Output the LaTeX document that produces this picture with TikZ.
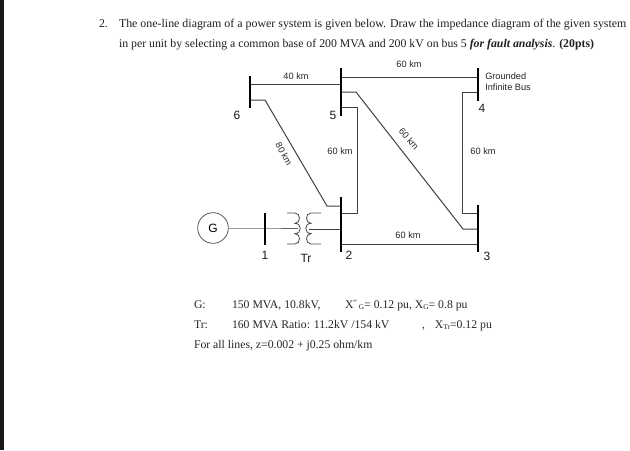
\documentclass[tikz,border=0pt]{standalone}
\usepackage{fontspec}
\setmainfont{Liberation Serif}
\newfontfamily\lblfont{Liberation Sans}
\begin{document}
\begin{tikzpicture}[x=0.75pt,y=-0.75pt,
  wire/.style={draw=black!75,line width=0.75pt,line join=miter},
  busbar/.style={draw=black,line width=2pt},
  coil/.style={draw=black!70,line width=0.6pt},
  txt/.style={anchor=base west,inner sep=0pt,outer sep=0pt,text=black!88,font=\fontsize{8.85pt}{11pt}\selectfont},
  small/.style={anchor=base west,inner sep=0pt,outer sep=0pt,text=black!85,font=\fontsize{8.8pt}{10pt}\selectfont},
  km/.style={inner sep=0pt,text=black!85,font=\lblfont\fontsize{6.9pt}{8pt}\selectfont},
  num/.style={inner sep=0pt,text=black!90,font=\lblfont\fontsize{9pt}{10pt}\selectfont}]
\useasboundingbox (0,0) rectangle (630,450);
\fill[white] (0,0) rectangle (630,450);
\fill[black!90] (0,0) rectangle (4.3,450);
% text
\node[txt] (q) at (99,27) {2.};
\node[txt,font=\fontsize{8.93pt}{11pt}\selectfont] (l1) at (119,27) {The one-line diagram of a power system is given below. Draw the impedance diagram of the given system};
\node[txt] (l2) at (119,47) {in per unit by selecting a common base of 200 MVA and 200 kV on bus 5 \textbf{\textit{for fault analysis}}. \textbf{(20pts)}};
\node[small] (g1) at (194,308) {G:};
\node[small] (g2) at (232,308) {150 MVA, 10.8kV,};
\node[small] (g3) at (345,308) {X\raisebox{2pt}{\fontsize{6pt}{6pt}\selectfont ''}\,\raisebox{-1pt}{\fontsize{5.5pt}{6pt}\selectfont G}= 0.12 pu, X\raisebox{-1pt}{\fontsize{5.5pt}{6pt}\selectfont G}= 0.8 pu};
\node[small] (t1) at (194,328) {Tr:};
\node[small] (t2) at (232,328) {160 MVA Ratio: 11.2kV /154 kV};
\node[small] (t3) at (422,328) {,\hspace{7.5pt}X\raisebox{-1pt}{\fontsize{5.5pt}{6pt}\selectfont Tr}=0.12 pu};
\node[small] (z) at (194,348) {For all lines, z=0.002 + j0.25 ohm/km};
% coordinates
\coordinate (b6t) at (250,76); \coordinate (b6b) at (250,108);
\coordinate (b5t) at (341,68); \coordinate (b5b) at (341,116);
\coordinate (b4t) at (478,68); \coordinate (b4b) at (478,101);
\coordinate (b2t) at (341,197); \coordinate (b2b) at (341,252);
\coordinate (b3t) at (478,205); \coordinate (b3b) at (478,252);
\coordinate (b1t) at (265,213); \coordinate (b1b) at (265,245);
\node[draw=black!65,line width=0.6pt,circle,minimum size=23pt,inner sep=0pt,font=\lblfont\fontsize{9pt}{10pt}\selectfont] (G) at (213,228) {G};
% wires
\draw[wire] (b6t |- 0,84) coordinate (a1) -- (b5t |- a1);
\draw[wire] (b5t |- 0,77) coordinate (a2) -- (b4t |- a2);
\draw[wire] (b6t |- 0,100) coordinate (a3) -- (265,100) coordinate (a4) -- (327,206) coordinate (a5) -- (b2t |- a5);
\draw[wire] (b5t |- 0,92) coordinate (a6) -- (356,92) coordinate (a7) -- (463,229) coordinate (a8) -- (b3t |- a8);
\draw[wire] (b5t |- 0,107) coordinate (a9) -- (357,107) coordinate (a10) -- (357,213) coordinate (a11) -- (b2t |- a11);
\draw[wire] (b4t |- 0,92) coordinate (a12) -- (462,92) coordinate (a13) -- (462,213) coordinate (a14) -- (b3t |- a14);
\draw[wire] (b2t |- 0,244) coordinate (a15) -- (b3t |- a15);
\draw[draw=black!60,line width=0.6pt] (G.east) -- (b1t |- G.east) -- (298,228) coordinate (c1);
\draw[wire] (309,229) coordinate (c2) -- (b2t |- c2);
% transformer
\draw[coil] (287,213) -- (295,213)
  .. controls (301,213) and (301,223.3) .. (295,223.3)
  .. controls (302,223.3) and (302,233.6) .. (295,233.6)
  .. controls (301,233.6) and (301,244) .. (295,244) -- (287,244);
\draw[coil] (321,213) -- (311,213)
  .. controls (305,213) and (305,223.3) .. (311,223.3)
  .. controls (304,223.3) and (304,233.6) .. (311,233.6)
  .. controls (305,233.6) and (305,244) .. (311,244) -- (321,244);
% buses
\draw[busbar] (b6t) -- (b6b);
\draw[busbar] (b5t) -- (b5b);
\draw[busbar] (b4t) -- (b4b);
\draw[busbar] (b2t) -- (b2b);
\draw[busbar] (b3t) -- (b3b);
\draw[busbar] (b1t) -- (b1b);
% labels
\node[km] (k1) at (296,76) {40 km};
\node[km] (k2) at (409,64) {60 km};
\node[km] (k3) at (340,151.5) {60 km};
\node[km] (k4) at (483,151) {60 km};
\node[km] (k5) at (408,235) {60 km};
\node[km,rotate=-62] (k6) at (284,154) {80 km};
\node[km,rotate=-50] (k7) at (409,139) {60 km};
\node[km,anchor=base west] (gr) at (485,79) {Grounded};
\node[km,anchor=base west] (ib) at (485,90.5) {Infinite Bus};
\node[num] (n6) at (237,115) {6};
\node[num] (n5) at (333,115.5) {5};
\node[num] (n4) at (482,108) {4};
\node[num] (n1) at (265,255.5) {1};
\node[num] (nt) at (306,258.5) {Tr};
\node[num] (n2) at (349,255.5) {2};
\node[num] (n3) at (487,256) {3};
\end{tikzpicture}
\end{document}
